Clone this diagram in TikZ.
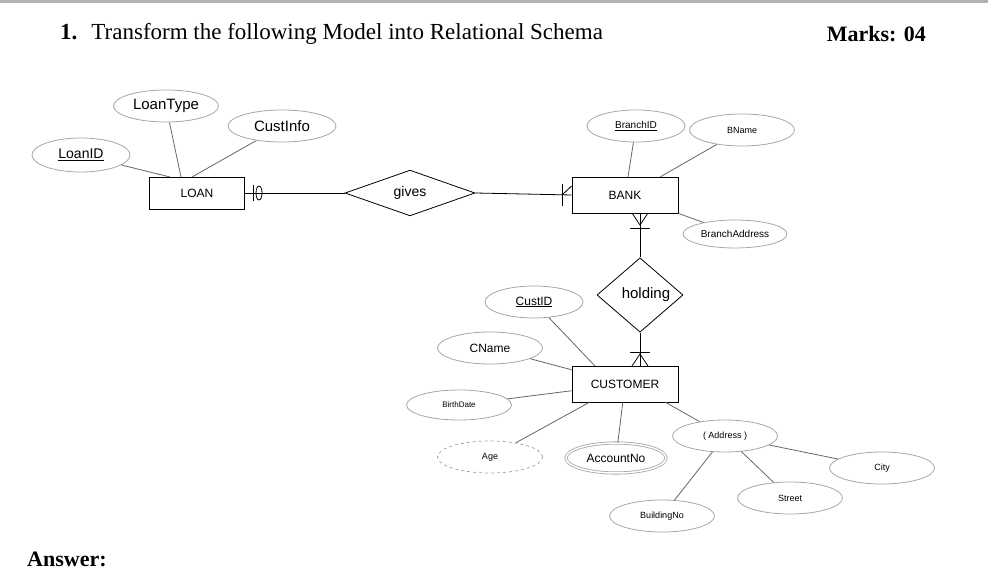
\documentclass[tikz,border=0pt]{standalone}
\usepackage{fontspec}
\setmainfont{Liberation Serif}
\newfontfamily\arial{Liberation Sans}
\usetikzlibrary{shapes.geometric}

\begin{document}
\begin{tikzpicture}[
        x=1pt, y=-1pt,
        every node/.style={font=\arial\fontsize{12}{14}\selectfont, inner sep=0pt},
        entity/.style={rectangle, draw, thick, minimum width=106pt, minimum height=36pt},
        relation/.style={diamond, draw, thick, minimum width=86pt, minimum height=48pt},
        attr/.style={ellipse, draw=gray!70, thick, minimum width=105pt, minimum height=32pt},
        small/.style={font=\arial\fontsize{9}{11}\selectfont},
        link/.style={draw=gray!80!black, thick}
    ]
        \useasboundingbox (0,0) rectangle (988,569);
        \draw[gray!60, line width=3pt] (0,2) -- (988,2);

        % header and footer
        \node[font=\fontsize{23}{26}\selectfont, anchor=west] (title) at (60,34) {\textbf{1.}\hspace{14pt}Transform the following Model into Relational Schema};
        \node[font=\bfseries\fontsize{22}{25}\selectfont, anchor=east] (marks) at (926,34) {Marks: 04};
        \node[font=\bfseries\fontsize{22}{25}\selectfont, anchor=west] (answer) at (27,559) {Answer:};

        % entities and relations
        \node[entity, minimum width=95pt, minimum height=32pt] (loan) at (197,193) {LOAN};
        \node[entity] (bank) at (625,195) {BANK};
        \node[entity] (customer) at (625,384) {CUSTOMER};
        \node[relation, minimum width=130pt, minimum height=35pt, font=\arial\fontsize{14}{16}\selectfont] (gives) at (410,193) {gives};
        \node[relation, font=\arial\fontsize{15}{17}\selectfont] (holding) at (640,295) {\hspace{12pt}holding};

        % attributes
        \node[attr, minimum width=98pt, minimum height=34pt, font=\arial\fontsize{14}{16}\selectfont] (loanid) at (81,155) {\underline{LoanID}};
        \node[attr, font=\arial\fontsize{15}{17}\selectfont] (loantype) at (166,106) {LoanType};
        \node[attr, minimum width=108pt, font=\arial\fontsize{15}{17}\selectfont] (custinfo) at (282,126) {CustInfo};
        \node[attr, minimum width=98pt, font=\arial\fontsize{10}{12}\selectfont] (branchid) at (636,126) {\underline{BranchID}};
        \node[attr, small] (bname) at (742,130) {BName};
        \node[attr, minimum width=104pt, minimum height=28pt, font=\arial\fontsize{10}{12}\selectfont] (baddr) at (735,234) {BranchAddress};
        \node[attr, minimum width=98pt] (custid) at (534,302) {\underline{CustID}};
        \node[attr] (cname) at (490,348) {CName};
        \node[attr, minimum height=30pt, font=\arial\fontsize{8}{10}\selectfont] (birth) at (459,405) {BirthDate};
        \node[attr, dashed, small] (age) at (490,457) {Age};
        \node[attr, double=white, double distance=1.5pt, minimum width=100pt, minimum height=30pt] (accno) at (616,458) {AccountNo};
        \node[attr, small] (address) at (725,436) {( Address )};
        \node[attr, small] (city) at (882,468) {City};
        \node[attr, small] (street) at (790,498) {Street};
        \node[attr, small] (building) at (662,516) {BuildingNo};

        % attribute links
        \draw[link] (loanid) -- (170,177);
        \draw[link] (loantype) -- (181,177);
        \draw[link] (custinfo) -- (192,177);
        \draw[link] (branchid) -- (628,177);
        \draw[link] (bname) -- (660,177);
        \draw[link] (baddr) -- (bank.south east);
        \draw[link] (custid) -- (595,366);
        \draw[link] (cname) -- (customer);
        \draw[link] (birth) -- (customer);
        \draw[link] (age) -- (590,402);
        \draw[link] (accno) -- (customer);
        \draw[link] (address) -- (665,402);
        \draw[link] (address) -- (city);
        \draw[link] (address) -- (street);
        \draw[link] (address) -- (building);

        % relationship lines with cardinalities
        \draw[thick] (loan.east) -- (gives.west);
        \draw[thick] (253,185) -- (253,201);
        \draw[thick] (259,193) circle[x radius=3pt, y radius=7pt];
        \draw[thick] (gives.east) -- (bank.west);
        \draw[thick] (562,184) -- (562,206);
        \draw[thick] (bank.west) ++(0,-9) -- (562,195) -- ([yshift=9pt]bank.west);
        \draw[thick] (640,213) -- (holding.north);
        \draw[thick] (630,228) -- (650,228);
        \draw[thick] (632,213) -- (640,225) -- (648,213);
        \draw[thick] (holding.south) -- (640,366);
        \draw[thick] (630,352) -- (650,352);
        \draw[thick] (632,366) -- (640,354) -- (648,366);
    \end{tikzpicture}
\end{document}
